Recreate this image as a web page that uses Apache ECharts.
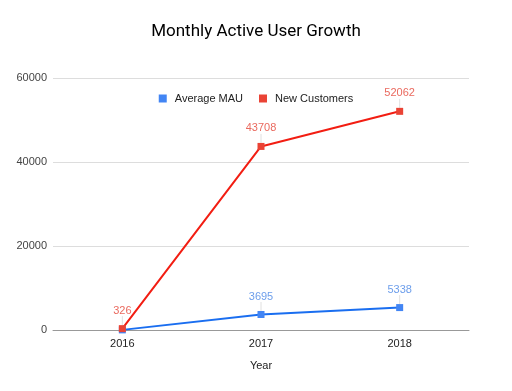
<!DOCTYPE html>
<html><head><meta charset="utf-8">
<script src="https://cdn.jsdelivr.net/npm/echarts@6/dist/echarts.min.js"></script>
<style>html,body{margin:0;padding:0;background:#fff}#c{width:512px;height:391px}</style>
</head><body><div id="c"></div>
<script>
const categories = ['2016', '2017', '2018'];
const averageMAU = [30, 3695, 5338];
const newCustomers = [326, 43708, 52062];
const yTicks = [0, 20000, 40000, 60000];

const F = 'Arial, "Liberation Sans", sans-serif';
const chart = echarts.init(document.getElementById('c'), null, {renderer: 'canvas'});
const lbl = (color) => ({show: true, position: 'top', distance: 0, color: color, fontSize: 11, fontFamily: F});
chart.setOption({
  animation: false,
  title: {text: 'Monthly Active User Growth', left: 'center', top: 18,
    textStyle: {fontSize: 17, fontWeight: 'normal', color: '#000', fontFamily: 'Roboto, Arial, sans-serif'}},
  legend: {top: 88, left: 'center', itemWidth: 8, itemHeight: 8, itemGap: 16, icon: 'rect',
    textStyle: {fontSize: 11, color: '#222', fontFamily: F, padding: [0, 0, 0, 3]}},
  grid: {left: 53, right: 43, top: 78, bottom: 61},
  xAxis: {type: 'category', data: categories, boundaryGap: true, name: 'Year', nameLocation: 'middle', nameGap: 30,
    nameTextStyle: {fontSize: 11, color: '#222', fontFamily: F},
    axisLine: {lineStyle: {color: '#999'}}, axisTick: {show: false},
    axisLabel: {fontSize: 11, color: '#222', margin: 8, fontFamily: F}},
  yAxis: {type: 'value', min: yTicks[0], max: yTicks[yTicks.length - 1], interval: 20000,
    axisLine: {show: false}, axisTick: {show: false},
    splitLine: {lineStyle: {color: '#ddd'}},
    axisLabel: {fontSize: 11, color: '#444', margin: 6, fontFamily: F, formatter: (v) => String(v)}},
  series: [
    {name: 'Average MAU', type: 'line', data: averageMAU.map((v, i) => i === 0 ? {value: v, label: {show: false}, labelLine: {show: false}} : v),
      symbol: 'rect', symbolSize: 7, color: '#4285f4', lineStyle: {color: '#1a6ef0', width: 2},
      label: lbl('#6d9eeb'), labelLayout: {dy: -9}, labelLine: {show: true, lineStyle: {color: '#e0e0e0', width: 1}}},
    {name: 'New Customers', type: 'line', data: newCustomers,
      symbol: 'rect', symbolSize: 7, color: '#ea4335', lineStyle: {color: '#f21d12', width: 2},
      label: lbl('#ea6a5f'), labelLayout: {dy: -9}, labelLine: {show: true, lineStyle: {color: '#e0e0e0', width: 1}}}
  ]
});
</script></body></html>
